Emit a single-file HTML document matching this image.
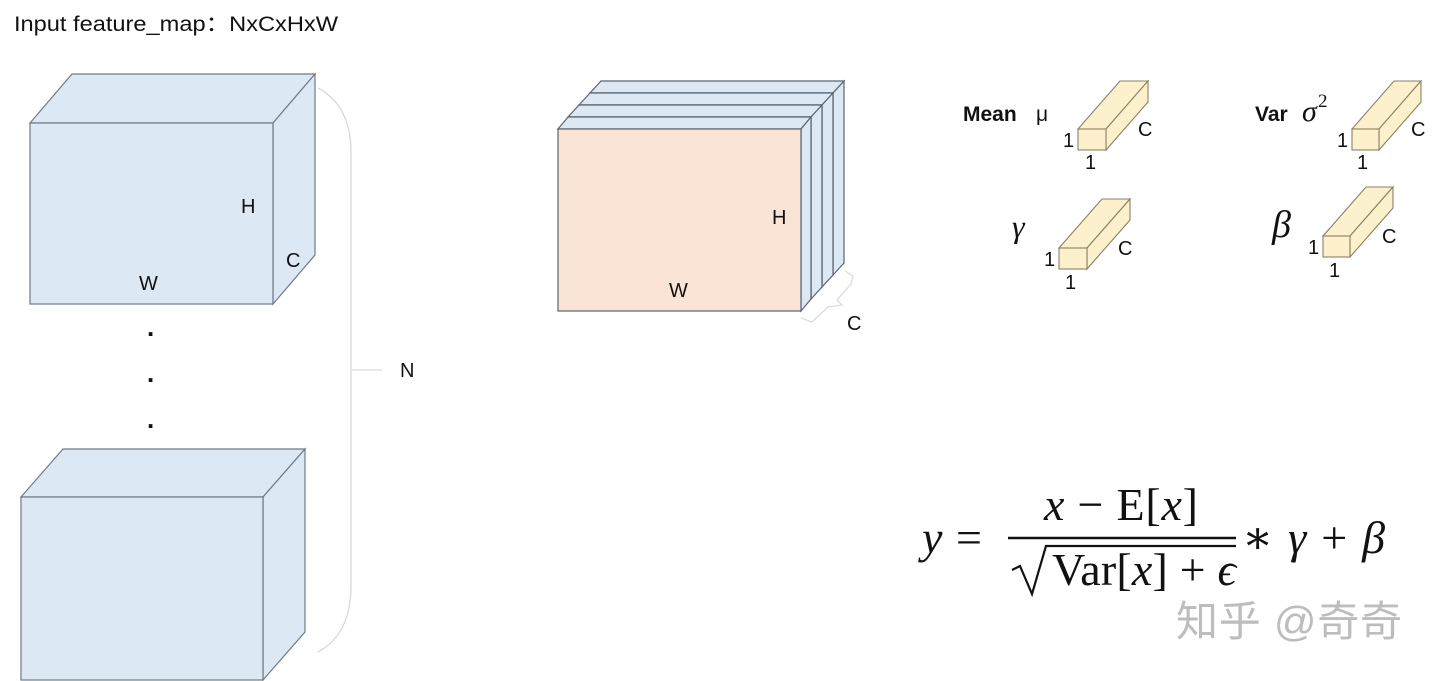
<!DOCTYPE html>
<html><head><meta charset="utf-8"><style>
html,body{margin:0;padding:0;background:#fff;}
svg{display:block;}
.t{font-family:"Liberation Sans","DejaVu Sans",sans-serif;fill:#111;}
.m{font-family:"Liberation Serif","DejaVu Serif",serif;fill:#111;}
</style></head><body>
<svg width="1440" height="681" viewBox="0 0 1440 681" xmlns="http://www.w3.org/2000/svg">
<text class="t" x="14" y="31" font-size="21" textLength="324" lengthAdjust="spacingAndGlyphs">Input feature_map：NxCxHxW</text>

<!-- top cube -->
<g fill="#dce8f4" stroke="#6f7a86" stroke-width="1.2">
<polygon points="30,123 273,123 315,74 72,74"/>
<polygon points="273,123 315,74 315,255 273,304"/>
<rect x="30" y="123" width="243" height="181"/>
</g>
<!-- bottom cube -->
<g fill="#dce8f4" stroke="#6f7a86" stroke-width="1.2">
<polygon points="21,497 263,497 305,449 63,449"/>
<polygon points="263,497 305,449 305,632 263,680"/>
<rect x="21" y="497" width="242" height="183"/>
</g>
<text class="t" x="241" y="213" font-size="20">H</text>
<text class="t" x="286" y="267" font-size="20">C</text>
<text class="t" x="139" y="290" font-size="20">W</text>
<text class="t" x="147" y="336" font-size="26" font-weight="bold">.</text>
<text class="t" x="147" y="382" font-size="26" font-weight="bold">.</text>
<text class="t" x="147" y="428" font-size="26" font-weight="bold">.</text>
<!-- N brace -->
<path d="M318,88 Q350,105 351,150 L351,588 Q350,635 318,652 M351,370 L382,370" fill="none" stroke="#d9d9d9" stroke-width="1.3"/>
<text class="t" x="400" y="377" font-size="20">N</text>

<!-- middle stack -->
<g stroke="#5a6470" stroke-width="1.2">
<g fill="#dce8f4">
<polygon points="590,93 833,93 844,81 601,81"/><polygon points="833,93 844,81 844,263 833,275"/><rect x="590" y="93" width="243" height="182"/>
<polygon points="579,105 822,105 833,93 590,93"/><polygon points="822,105 833,93 833,275 822,287"/><rect x="579" y="105" width="243" height="182"/>
<polygon points="568,117 811,117 822,105 579,105"/><polygon points="811,117 822,105 822,287 811,299"/><rect x="568" y="117" width="243" height="182"/>
<polygon points="558,129 801,129 811,117 568,117"/><polygon points="801,129 811,117 811,299 801,311"/>
</g>
<rect x="558" y="129" width="243" height="182" fill="#fae4d6"/>
</g>
<text class="t" x="772" y="224" font-size="20">H</text>
<text class="t" x="669" y="297" font-size="20">W</text>
<path d="M801,318 L812,322 L828,307 L842,305 L837,300 L851,284 L853,276 L845,271" fill="none" stroke="#dcdcdc" stroke-width="1.3"/>
<text class="t" x="847" y="330" font-size="20">C</text>

<!-- small bars -->
<g fill="#fdf0cc" stroke="#8a8064" stroke-width="1.1">
<polygon points="1078,129 1106,129 1148,81 1120,81"/><polygon points="1106,129 1148,81 1148,102 1106,150"/><rect x="1078" y="129" width="28" height="21"/>
<polygon points="1352,129 1379,129 1421,81 1394,81"/><polygon points="1379,129 1421,81 1421,102 1379,150"/><rect x="1352" y="129" width="27" height="21"/>
<polygon points="1059,248 1087,248 1130,199 1102,199"/><polygon points="1087,248 1130,199 1130,220 1087,269"/><rect x="1059" y="248" width="28" height="21"/>
<polygon points="1323,236 1350,236 1393,187 1366,187"/><polygon points="1350,236 1393,187 1393,208 1350,257"/><rect x="1323" y="236" width="27" height="21"/>
</g>
<text class="t" x="963" y="121" font-size="21" font-weight="bold">Mean</text>
<text class="t" x="1036" y="121" font-size="21">μ</text>
<text class="t" x="1063" y="147" font-size="20">1</text>
<text class="t" x="1085" y="169" font-size="20">1</text>
<text class="t" x="1138" y="136" font-size="20">C</text>
<text class="t" x="1255" y="121" font-size="21" font-weight="bold">Var</text>
<text class="m" x="1302" y="121" font-size="30" font-style="italic">σ</text>
<text class="m" x="1318" y="107" font-size="19">2</text>
<text class="t" x="1337" y="147" font-size="20">1</text>
<text class="t" x="1357" y="169" font-size="20">1</text>
<text class="t" x="1411" y="136" font-size="20">C</text>
<text class="m" x="1012" y="237" font-size="32" font-style="italic">γ</text>
<text class="t" x="1044" y="266" font-size="20">1</text>
<text class="t" x="1065" y="289" font-size="20">1</text>
<text class="t" x="1118" y="255" font-size="20">C</text>
<text class="m" x="1272" y="237" font-size="38" font-style="italic">β</text>
<text class="t" x="1308" y="254" font-size="20">1</text>
<text class="t" x="1329" y="277" font-size="20">1</text>
<text class="t" x="1382" y="243" font-size="20">C</text>

<!-- formula -->
<text class="m" x="922" y="553" font-size="46" font-style="italic">y</text>
<text class="m" x="956" y="553" font-size="46">=</text>
<text class="m" x="1044" y="520" font-size="46" textLength="154"><tspan font-style="italic">x</tspan> − E[<tspan font-style="italic">x</tspan>]</text>
<line x1="1008" y1="538" x2="1236" y2="538" stroke="#111" stroke-width="2.5"/>
<path d="M1012,570 L1020,566 L1032,594 L1046,546 L1236,546" fill="none" stroke="#111" stroke-width="2.2"/>
<text class="m" x="1052" y="585" font-size="46" textLength="184">Var[<tspan font-style="italic">x</tspan>] + <tspan font-style="italic">ϵ</tspan></text>
<text class="m" x="1242" y="553" font-size="46" textLength="143">∗ <tspan font-style="italic">γ</tspan> + <tspan font-style="italic">β</tspan></text>

<text x="1176" y="636" font-size="42" fill="#bdbdbd" font-family="'Liberation Sans','Noto Sans CJK SC',sans-serif" textLength="226">知乎 @奇奇</text>
</svg>
</body></html>
